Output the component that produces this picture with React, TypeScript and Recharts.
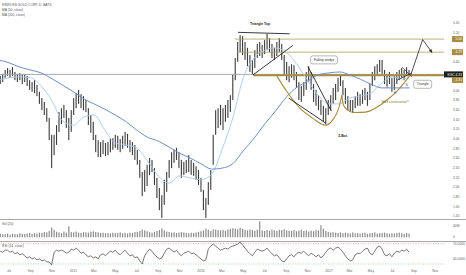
import React from 'react';
import { ComposedChart, Bar, Line, Scatter, XAxis, YAxis, ReferenceLine } from 'recharts';

// week bars start here, one entry per week
const FIRST_WEEK = '2014-06-06';

const priceHigh = [
  4.30, 4.34, 4.42, 4.46, 4.42, 4.48, 4.38, 4.34, 4.36, 4.32,
  4.34, 4.30, 4.21, 4.17, 4.21, 4.11, 3.97, 3.84, 3.76, 3.63,
  3.43, 3.08, 3.08, 3.28, 3.55, 3.63, 3.70, 3.59, 3.43, 3.59,
  3.84, 3.94, 4.01, 3.92, 3.88, 3.80, 3.63, 3.49, 3.35, 3.08,
  2.97, 2.93, 2.97, 2.91, 2.93, 3.01, 3.01, 3.08, 3.06, 2.99,
  3.06, 3.14, 3.10, 2.97, 2.93, 2.87, 2.77, 2.56, 2.31, 2.35,
  2.46, 2.60, 2.56, 2.39, 2.19, 1.98, 1.83, 2.15, 2.31, 2.56,
  2.72, 2.77, 2.81, 2.72, 2.56, 2.52, 2.56, 2.66, 2.56, 2.50,
  2.43, 2.35, 2.19, 1.94, 1.77, 2.10, 2.35, 3.08, 3.59, 3.63,
  3.70, 3.63, 3.70, 3.80, 3.90, 4.32, 4.67, 5.00, 5.14, 5.12,
  5.00, 4.88, 4.73, 4.63, 4.83, 4.96, 5.00, 4.94, 5.04, 5.17,
  5.08, 4.96, 4.88, 5.00, 5.08, 4.96, 4.73, 4.59, 4.50, 4.54,
  4.52, 4.38, 4.17, 4.09, 4.17, 4.38, 4.50, 4.38, 4.13, 4.01,
  3.90, 3.80, 3.68, 3.63, 3.80, 3.90, 4.05, 4.13, 4.26, 4.34,
  4.21, 4.05, 3.88, 3.80, 3.80, 3.88, 3.97, 3.92, 4.01, 4.05,
  3.97, 4.13, 4.38, 4.50, 4.54, 4.63, 4.63, 4.42, 4.34, 4.38,
  4.26, 4.30, 4.38, 4.42, 4.46, 4.42, 4.48, 4.42,
];

const priceLow = [
  4.13, 4.17, 4.26, 4.30, 4.26, 4.30, 4.21, 4.17, 4.21, 4.13,
  4.17, 4.09, 4.01, 3.97, 3.94, 3.88, 3.72, 3.59, 3.49, 3.35,
  2.97, 2.39, 2.66, 2.87, 3.14, 3.30, 3.43, 3.22, 2.97, 3.14,
  3.49, 3.63, 3.72, 3.63, 3.59, 3.55, 3.28, 3.12, 2.97, 2.72,
  2.62, 2.62, 2.68, 2.64, 2.66, 2.72, 2.77, 2.81, 2.77, 2.72,
  2.79, 2.85, 2.81, 2.72, 2.66, 2.56, 2.46, 2.19, 1.81, 1.90,
  2.02, 2.25, 2.31, 2.04, 1.77, 1.52, 1.36, 1.63, 1.90, 2.19,
  2.39, 2.50, 2.56, 2.39, 2.19, 2.25, 2.29, 2.31, 2.25, 2.23,
  2.15, 2.04, 1.90, 1.52, 1.36, 1.63, 1.94, 2.46, 3.08, 3.22,
  3.28, 3.18, 3.35, 3.43, 3.55, 3.80, 4.21, 4.59, 4.79, 4.73,
  4.63, 4.50, 4.38, 4.32, 4.46, 4.67, 4.71, 4.67, 4.75, 4.83,
  4.79, 4.67, 4.63, 4.71, 4.79, 4.63, 4.32, 4.21, 4.17, 4.26,
  4.21, 4.05, 3.80, 3.76, 3.88, 4.01, 4.17, 4.01, 3.76, 3.68,
  3.59, 3.49, 3.35, 3.30, 3.49, 3.59, 3.72, 3.80, 3.97, 4.09,
  3.90, 3.72, 3.59, 3.55, 3.53, 3.63, 3.68, 3.68, 3.72, 3.80,
  3.68, 3.80, 4.09, 4.21, 4.30, 4.38, 4.34, 4.13, 4.09, 4.13,
  3.97, 4.01, 4.13, 4.21, 4.26, 4.21, 4.30, 4.30,
];

// millions of shares, daily average of the week
const volume = [
  12, 10, 11, 13, 9, 12, 11, 10, 14, 12, 11, 13, 15, 12, 14, 13, 16, 15, 18, 17,
  22, 34, 26, 19, 17, 15, 20, 16, 38, 18, 17, 20, 16, 15, 18, 17, 16, 19, 21, 18,
  17, 15, 16, 14, 15, 13, 16, 14, 15, 17, 14, 15, 13, 16, 15, 18, 19, 22, 27, 24,
  21, 18, 16, 19, 22, 25, 31, 24, 20, 18, 16, 17, 15, 16, 18, 17, 15, 14, 16, 15,
  17, 19, 21, 24, 30, 26, 22, 28, 27, 25, 24, 26, 23, 27, 29, 31, 30, 28, 33, 29,
  26, 24, 27, 25, 23, 26, 55, 24, 22, 25, 23, 27, 24, 22, 26, 25, 28, 24, 23, 22,
  25, 21, 23, 26, 22, 24, 20, 23, 21, 25, 24, 42, 30, 22, 19, 17, 18, 16, 15, 17,
  14, 16, 15, 13, 17, 14, 15, 13, 14, 16, 12, 14, 15, 17, 13, 14, 15, 16, 14, 12,
  14, 13, 15, 16, 14, 12, 15, 13,
];

const rsi = [
  55, 53, 57, 57, 53, 55, 50, 52, 48, 50, 46, 42, 44, 40, 42, 38, 40, 36, 38, 34,
  34, 28, 53, 57, 55, 57, 55, 51, 53, 59, 57, 61, 57, 51, 53, 48, 44, 46, 42, 44,
  40, 48, 50, 46, 51, 55, 53, 57, 51, 48, 53, 57, 51, 46, 48, 42, 44, 36, 30, 46,
  53, 59, 55, 48, 44, 40, 42, 51, 59, 61, 57, 53, 57, 50, 46, 51, 53, 55, 50, 51,
  48, 44, 40, 36, 38, 59, 65, 69, 65, 61, 57, 59, 61, 59, 63, 65, 67, 69, 73, 67,
  61, 55, 50, 46, 53, 59, 57, 55, 57, 61, 55, 50, 46, 48, 42, 36, 34, 40, 46, 48,
  44, 50, 53, 51, 55, 50, 46, 51, 48, 44, 48, 42, 46, 53, 59, 61, 57, 61, 63, 59,
  53, 46, 40, 36, 38, 48, 51, 50, 55, 59, 61, 51, 48, 55, 63, 65, 59, 48, 46, 50,
  44, 51, 55, 53, 57, 55, 59, 53,
];

const maDates = [
  '2014-06-01', '2014-07-01', '2014-08-01', '2014-09-01', '2014-10-01', '2014-11-01', '2014-12-01',
  '2015-01-01', '2015-02-01', '2015-03-01', '2015-04-01', '2015-05-01', '2015-06-01',
  '2015-07-01', '2015-08-01', '2015-09-01', '2015-10-01', '2015-11-01', '2015-12-01',
  '2016-01-01', '2016-02-01', '2016-03-01', '2016-04-01', '2016-05-01', '2016-06-01',
  '2016-07-01', '2016-08-01', '2016-09-01', '2016-10-01', '2016-11-01', '2016-12-01',
  '2017-01-01', '2017-02-01', '2017-03-01', '2017-04-01', '2017-05-01', '2017-06-01',
  '2017-07-01', '2017-08-01', '2017-08-20',
];
const ma50 = [
  4.21, 4.26, 4.28, 4.26, 4.09, 3.78, 3.37,
  3.28, 3.45, 3.49, 3.18, 2.91, 2.87,
  2.81, 2.54, 2.23, 2.08, 2.23, 2.19,
  2.15, 2.27, 2.77, 3.43, 4.26, 4.67,
  4.83, 4.88, 4.79, 4.54, 4.21, 3.90,
  3.72, 3.72, 3.84, 3.88, 3.94, 4.15,
  4.28, 4.23, 4.30,
];
const ma200 = [
  4.63, 4.57, 4.48, 4.42, 4.36, 4.24, 4.11,
  3.97, 3.82, 3.72, 3.61, 3.49, 3.35,
  3.18, 3.03, 2.95, 2.83, 2.70, 2.60,
  2.48, 2.37, 2.39, 2.48, 2.75, 3.01,
  3.30, 3.57, 3.86, 4.06, 4.19, 4.32,
  4.36, 4.38, 4.32, 4.23, 4.13, 4.05,
  4.05, 4.05, 4.05,
];

const xTickDates = [
  '2014-07-01', '2014-09-01', '2014-11-01', '2015-01-01', '2015-03-01', '2015-05-01', '2015-07-01',
  '2015-09-01', '2015-11-01', '2016-01-01', '2016-03-01', '2016-05-01', '2016-07-01', '2016-09-01',
  '2016-11-01', '2017-01-01', '2017-03-01', '2017-05-01', '2017-07-01', '2017-09-01', '2017-11-01',
];
const xTickLabels = [
  'Jul', 'Sep', 'Nov', '2015', 'Mar', 'May', 'Jul', 'Sep', 'Nov', '2016', 'Mar',
  'May', 'Jul', 'Sep', 'Nov', '2017', 'Mar', 'May', 'Jul', 'Sep', 'Nov',
];
// ticks hidden behind the price tags are left out
const priceTicks = [
  1.4, 1.6, 1.8, 2.0, 2.2, 2.4, 2.6, 2.8, 3.0, 3.2, 3.4,
  3.6, 3.8, 4.0, 4.6, 5.2, 5.4,
];

// drawings on the price pane: [date, price]
const triangleTop = [['2016-04-16', 5.20], ['2016-09-11', 5.17]];
const triangleRise = [['2016-05-29', 4.32], ['2016-09-20', 4.93]];
const wedgeUpper = [['2016-11-02', 4.49], ['2017-01-08', 3.57]];
const wedgeLower = [['2016-09-08', 3.84], ['2016-12-23', 3.32]];
const cupLeft = [
  ['2016-08-03', 4.32], ['2016-09-03', 3.97], ['2016-10-10', 3.63], ['2016-11-16', 3.42],
  ['2016-12-21', 3.28], ['2017-01-12', 3.39], ['2017-01-29', 3.63], ['2017-02-07', 3.90],
];
const cupRight = [
  ['2017-02-07', 3.90], ['2017-02-11', 3.70], ['2017-02-24', 3.59], ['2017-03-16', 3.54],
  ['2017-04-16', 3.55], ['2017-05-18', 3.65], ['2017-06-16', 3.80], ['2017-07-14', 3.98],
  ['2017-08-20', 4.30],
];
const smallTriA = [['2017-07-29', 4.48], ['2017-08-26', 4.28]];
const smallTriB = [['2017-07-15', 4.21], ['2017-08-26', 4.36]];
const projection = [['2017-08-23', 4.32], ['2017-09-26', 5.05], ['2017-10-23', 4.78]];

const goldLevels = [['2016-04-07', 5.06], ['2016-04-13', 4.79]];
const neckline = ['2016-05-29', 4.31];
const lastPrice = 4.33;

const plainNotes = [['2016-06-18', 5.37, 'Triangle Top'], ['2017-02-10', 3.06, '2-Bot.']];
const goldNotes = [['2017-07-09', 3.75, 'H&S continuation?']];
const shoulderNotes = [['2017-06-16', 4.07, 'S'], ['2017-07-09', 3.95, 'H'], ['2017-08-12', 4.11, 'S']];
const boxNotes = [['2016-12-18', 4.63, 'Falling wedge'], ['2017-09-26', 4.125, 'Triangle']];

const DAY0 = Date.UTC(2014, 0, 1);
const day = (s: string) => (Date.parse(s) - DAY0) / 86400000;

const X_DOMAIN: [number, number] = [155.3, 1425];
const FONT = 'Liberation Sans, Arial, sans-serif';
const GOLD = '#b39a55';

const weeks = priceHigh.map((h, i) => ({
  day: day(FIRST_WEEK) + 7 * i,
  range: [priceLow[i], h],
  volume: volume[i],
  rsi: rsi[i],
}));
const maData = maDates.map((d, i) => ({ day: day(d), ma50: ma50[i], ma200: ma200[i] }));
const pts = (list: any[]) => list.map(([d, v]) => ({ day: day(d), v }));
const notes = (list: any[]) => list.map(([d, v, text]) => ({ day: day(d), v, text }));
const xTicks = xTickDates.map(day);

// bar drawn centred on its date with a fixed width
const stick = (w: number, fill: string) => (p: any) => {
  if (p.x == null || p.y == null) return <g />;
  const top = Math.min(p.y, p.y + p.height);
  const h = Math.max(Math.abs(p.height), 0.6);
  return <rect x={p.x + p.width / 2 - w / 2} y={top} width={w} height={h} fill={fill} />;
};

const Tag = ({ viewBox, text, fill, dy = 0, dark = false }: any) => {
  if (!viewBox) return null;
  const right = viewBox.x + viewBox.width;
  const y = viewBox.y + dy;
  const x = dark ? right : right + 8;
  const w = dark ? 19 : 11;
  return (
    <g>
      <rect x={x} y={y - 3} width={w} height={6} fill={fill} />
      <text x={x + w - 1} y={y + 1.2} textAnchor="end" fontSize={3.3} fill="#fff" fontFamily={FONT}>{text}</text>
    </g>
  );
};

const plainShape = (p: any) => (
  <text x={p.cx} y={p.cy} textAnchor="middle" dominantBaseline="middle" fontSize={3.4} fontWeight="bold" fill="#222" fontFamily={FONT}>{p.payload.text}</text>
);
const goldShape = (p: any) => (
  <text x={p.cx} y={p.cy} textAnchor="middle" dominantBaseline="middle" fontSize={3.3} fill="#8a7333" fontFamily={FONT}>{p.payload.text}</text>
);
const shoulderShape = (p: any) => (
  <text x={p.cx} y={p.cy} textAnchor="middle" dominantBaseline="middle" fontSize={3.3} fill="#555" fontFamily={FONT}>{p.payload.text}</text>
);
const boxShape = (p: any) => {
  const w = p.payload.text.length * 1.75 + 4;
  return (
    <g>
      <rect x={p.cx - w / 2} y={p.cy - 4} width={w} height={8} rx={2} fill="#fff" stroke="#888" strokeWidth={0.6} />
      <text x={p.cx} y={p.cy} textAnchor="middle" dominantBaseline="middle" fontSize={3.3} fill="#333" fontFamily={FONT}>{p.payload.text}</text>
    </g>
  );
};
const arrowShape = (p: any) => (
  <polygon transform={`translate(${p.cx},${p.cy}) rotate(55)`} points="0,0 -3.4,-1.6 -3.4,1.6" fill="#222" />
);

const drawLine = (list: any[], key: string, color: string, width: number, type: any = 'linear') => (
  <Line key={key} data={pts(list)} dataKey="v" type={type} stroke={color} strokeWidth={width} dot={false} activeDot={false} isAnimationActive={false} />
);

const axisTick = { fontSize: 3.3, fill: '#666', fontFamily: FONT };

export default function App() {
  return (
    <div style={{ position: 'absolute', left: 0, top: 0, width: 466, height: 275, background: '#fff', fontFamily: FONT }}>
      <div style={{ position: 'absolute', left: 0, top: 0 }}>
        <ComposedChart width={466} height={219} data={weeks} margin={{ top: 0, right: 0, bottom: 0, left: 0 }}>
          <XAxis dataKey="day" type="number" domain={X_DOMAIN} allowDataOverflow hide />
          <YAxis orientation="right" width={22} type="number" domain={[1.338, 5.869]} ticks={priceTicks}
            allowDataOverflow tickFormatter={(v: number) => v.toFixed(2)} tick={axisTick}
            tickLine={false} axisLine={false} tickSize={0} tickMargin={9} interval={0} />
          <ReferenceLine y={lastPrice} stroke="#a8a8a8" strokeWidth={1} />
          {goldLevels.map(([d, p]: any) => (
            <ReferenceLine key={d} segment={[{ x: day(d), y: p }, { x: X_DOMAIN[1], y: p }]} stroke={GOLD} strokeWidth={0.8} />
          ))}
          <ReferenceLine segment={[{ x: day(neckline[0] as string), y: neckline[1] }, { x: X_DOMAIN[1], y: neckline[1] }]} stroke="#a88c40" strokeWidth={2} />
          <Bar dataKey="range" shape={stick(1.1, '#3c3c3c')} isAnimationActive={false} />
          <Line data={maData} dataKey="ma50" type="monotone" stroke="#a9c7ef" strokeWidth={0.9} dot={false} activeDot={false} isAnimationActive={false} />
          <Line data={maData} dataKey="ma200" type="monotone" stroke="#6d8fca" strokeWidth={1} dot={false} activeDot={false} isAnimationActive={false} />
          {drawLine(cupLeft, 'cupL', '#a88a3c', 1.1, 'monotone')}
          {drawLine(cupRight, 'cupR', '#a88a3c', 1.1, 'monotone')}
          {drawLine(triangleTop, 'tt', '#222', 0.9)}
          {drawLine(triangleRise, 'tr', '#222', 0.9)}
          {drawLine(wedgeUpper, 'wu', '#222', 0.9)}
          {drawLine(wedgeLower, 'wl', '#222', 0.9)}
          {drawLine(smallTriA, 'sa', '#222', 0.7)}
          {drawLine(smallTriB, 'sb', '#222', 0.7)}
          {drawLine(projection, 'pj', '#222', 0.8)}
          <Scatter data={pts(projection.slice(2))} dataKey="v" shape={arrowShape} isAnimationActive={false} />
          <Scatter data={notes(plainNotes)} dataKey="v" shape={plainShape} isAnimationActive={false} />
          <Scatter data={notes(goldNotes)} dataKey="v" shape={goldShape} isAnimationActive={false} />
          <Scatter data={notes(shoulderNotes)} dataKey="v" shape={shoulderShape} isAnimationActive={false} />
          <Scatter data={notes(boxNotes)} dataKey="v" shape={boxShape} isAnimationActive={false} />
          {goldLevels.map(([d, p]: any) => (
            <ReferenceLine key={'t' + d} y={p} stroke="none" label={(props: any) => <Tag {...props} text={p.toFixed(2)} fill="#a88c40" />} />
          ))}
          <ReferenceLine y={lastPrice} stroke="none" label={(props: any) => <Tag {...props} text={'KGC ' + lastPrice.toFixed(2)} fill="#1e1e1e" dark />} />
          <ReferenceLine y={neckline[1] as number} stroke="none" label={(props: any) => <Tag {...props} text={(neckline[1] as number).toFixed(2)} fill="#a88c40" dy={4.6} />} />
        </ComposedChart>
      </div>

      <div style={{ position: 'absolute', left: 2, top: 3, fontSize: 3.3, lineHeight: '5.2px', color: '#555' }}>
        <div>KINROSS GOLD CORP, D, BATS</div>
        <div>MA (50, close)</div>
        <div>MA (200, close)</div>
      </div>

      <div style={{ position: 'absolute', left: 0, top: 218.5, width: 466, height: 1.5, background: '#a9a9a9' }} />

      <div style={{ position: 'absolute', left: 0, top: 220 }}>
        <ComposedChart width={466} height={19} data={weeks} margin={{ top: 0, right: 0, bottom: 0, left: 0 }}>
          <XAxis dataKey="day" type="number" domain={X_DOMAIN} allowDataOverflow hide />
          <YAxis orientation="right" width={22} type="number" domain={[-6, 60]} ticks={[0, 40]} allowDataOverflow
            tickFormatter={(v: number) => (v ? v + 'M' : '0')} tick={axisTick} tickLine={false} axisLine={false}
            tickSize={0} tickMargin={9} interval={0} />
          <Bar dataKey="volume" shape={stick(1.2, '#8c8c8c')} isAnimationActive={false} />
        </ComposedChart>
      </div>
      <div style={{ position: 'absolute', left: 2, top: 222, fontSize: 3.3, color: '#555' }}>Vol (20)</div>

      <div style={{ position: 'absolute', left: 0, top: 240.5, width: 466, height: 1.2, background: '#a9a9a9' }} />

      <div style={{ position: 'absolute', left: 0, top: 242 }}>
        <ComposedChart width={466} height={33} data={weeks} margin={{ top: 0, right: 0, bottom: 0, left: 0 }}>
          <XAxis dataKey="day" type="number" domain={X_DOMAIN} allowDataOverflow ticks={xTicks} interval={0}
            tickFormatter={(v: number) => xTickLabels[xTicks.indexOf(v)]} tick={axisTick}
            tickLine={false} axisLine={false} tickSize={0} tickMargin={5} height={10} />
          <YAxis orientation="right" width={22} type="number" domain={[28, 73]} ticks={[70, 40]} allowDataOverflow
            tickFormatter={(v: number) => v.toFixed(4)} tick={axisTick} tickLine={false} axisLine={false}
            tickSize={0} tickMargin={9} interval={0} />
          <ReferenceLine y={70} stroke="#f0a0a0" strokeDasharray="1 1.5" strokeWidth={0.8} />
          <ReferenceLine y={30} stroke="#9ccf9c" strokeDasharray="1 1.5" strokeWidth={0.8} />
          <Line dataKey="rsi" type="linear" stroke="#555" strokeWidth={0.8} dot={false} activeDot={false} isAnimationActive={false} />
        </ComposedChart>
      </div>
      <div style={{ position: 'absolute', left: 2, top: 244, fontSize: 3.3, color: '#555' }}>RSI (14, close)</div>
    </div>
  );
}
